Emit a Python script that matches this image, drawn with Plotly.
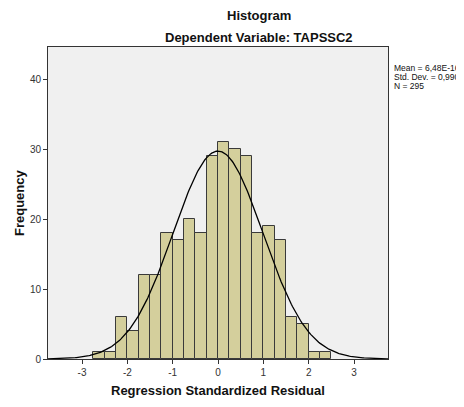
import numpy as np
import plotly.graph_objects as go

# bin edges (width 0.25) and frequencies
bin_left = [-2.75, -2.5, -2.25, -2.0, -1.75, -1.5, -1.25, -1.0, -0.75, -0.5, -0.25,
            0.0, 0.25, 0.5, 0.75, 1.0, 1.25, 1.5, 1.75, 2.0, 2.25]
freq = [1, 1, 6, 4, 12, 12, 18, 17, 20, 18, 29,
        31, 30, 29, 18, 19, 17, 6, 5, 1, 1]
bin_width = 0.25

# summary stats shown in the chart
mean = 6.48e-16
std = 0.990
n = 295
stats_lines = ["Mean = 6,48E-16", "Std. Dev. = 0,990", "N = 295"]

x_ticks = [-3, -2, -1, 0, 1, 2, 3]
y_ticks = [0, 10, 20, 30, 40]

centers = [b + bin_width / 2 for b in bin_left]

# normal curve scaled to the counts
xs = np.linspace(-3.75, 3.75, 300)
ys = n * bin_width * np.exp(-0.5 * ((xs - mean) / std) ** 2) / (std * np.sqrt(2 * np.pi))

fig = go.Figure()
fig.add_trace(go.Bar(
    x=centers, y=freq, width=bin_width,
    marker=dict(color="#D4CF9C", line=dict(color="#3a3a3a", width=1)),
    hoverinfo="y",
))
fig.add_trace(go.Scatter(x=xs, y=ys, mode="lines", line=dict(color="black", width=1.3), hoverinfo="skip"))

font = "Liberation Sans, Arial, sans-serif"
# page body has an 8px margin, so the figure is 8px smaller than the window
fig.update_layout(
    width=456, height=399,
    margin=dict(l=40, r=76, t=39, b=48),
    paper_bgcolor="white", plot_bgcolor="#F0F0F0",
    showlegend=False, bargap=0,
    font=dict(family=font, size=10, color="#222"),
)
fig.update_xaxes(
    range=[-3.75, 3.75], tickvals=x_ticks, ticktext=[str(t) for t in x_ticks],
    ticks="outside", ticklen=4, tickcolor="#333", showgrid=False, zeroline=False,
    showline=True, linecolor="#333", linewidth=1, mirror=True,
    tickfont=dict(size=10, color="#333"),
)
fig.update_yaxes(
    range=[0, 44.6], tickvals=y_ticks,
    ticks="outside", ticklen=4, tickcolor="#333", showgrid=False, zeroline=False,
    showline=True, linecolor="#333", linewidth=1, mirror=True,
    tickfont=dict(size=10, color="#333"),
)

ann = [
    dict(text="<b>Histogram</b>", x=0.62, y=1.0, yshift=32, font=dict(size=13, color="#111")),
    dict(text="<b>Dependent Variable: TAPSSC2</b>", x=0.62, y=1.0, yshift=10, font=dict(size=13, color="#111")),
    dict(text="<b>Regression Standardized Residual</b>", x=0.5, y=0.0, yshift=-31, font=dict(size=13, color="#111")),
    dict(text="<b>Frequency</b>", x=0.0, y=0.5, xshift=-29, textangle=-90, font=dict(size=13, color="#111")),
]
for i, line in enumerate(stats_lines):
    ann.append(dict(text=line, x=1.0, y=1.0, xshift=5, yshift=-21 - 9 * i,
                    xanchor="left", font=dict(size=8.5, color="#111")))
for a in ann:
    a.setdefault("xanchor", "center")
    fig.add_annotation(xref="paper", yref="paper", showarrow=False, yanchor="middle", borderpad=0, **a)

fig.write_html("out.html")
